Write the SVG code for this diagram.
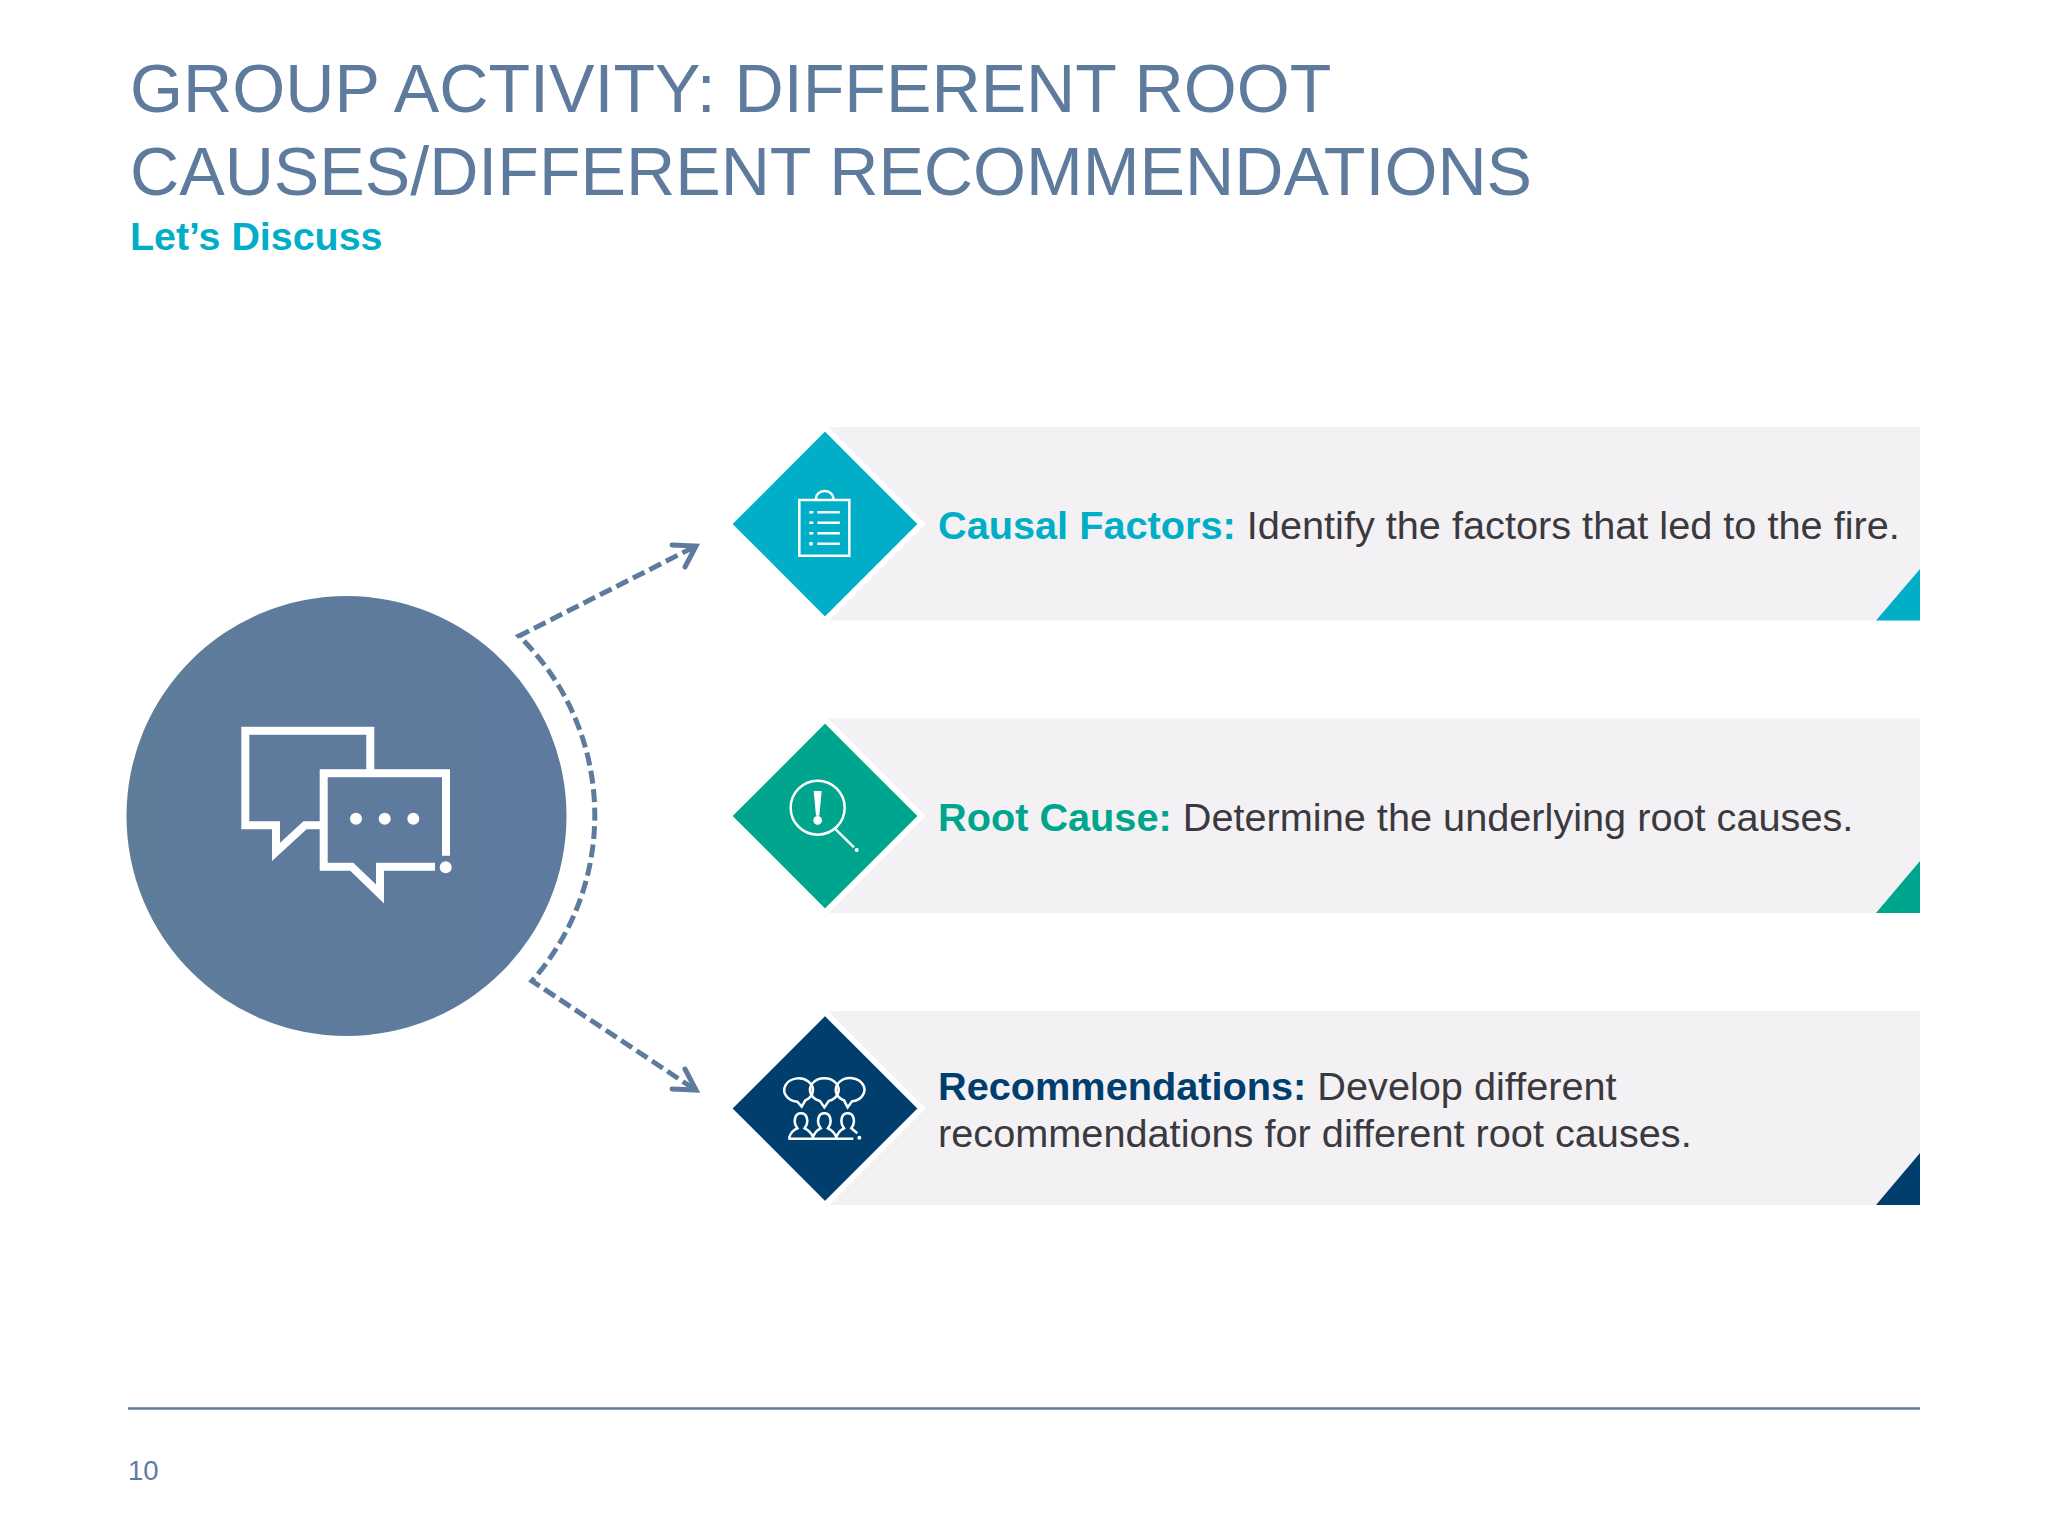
<svg xmlns="http://www.w3.org/2000/svg" width="2048" height="1536" viewBox="0 0 2048 1536">
<style>
text{font-family:"Liberation Sans",Arial,sans-serif}
.title{font-size:68.150px;fill:#5e7b9e}
.sub{font-size:39.400px;font-weight:700;fill:#00aec7}
.body{font-size:39.700px;fill:#3a3a3e}
.b{font-weight:700}
.bar{fill:#f3f1f4}
.dia{stroke:#fff;stroke-width:6}
.ic{fill:none;stroke:#fff;stroke-width:7.5}
.conn{fill:none;stroke:#5e7b9e;stroke-width:5;stroke-dasharray:13 5.500}
.head{fill:none;stroke:#5e7b9e;stroke-width:5;stroke-linecap:round}
</style>
<defs>
<linearGradient id="hubFill" x1="0" y1="0" x2="1" y2="0">
<stop offset="0" stop-color="#5e7d9a"/>
<stop offset=".35" stop-color="#5e7b9d"/>
<stop offset="1" stop-color="#5e7a9e"/>
</linearGradient>
</defs>
<rect width="2048" height="1536" fill="#fff"/>
<g id="header">
<text class="title" x="130" y="112">GROUP ACTIVITY: DIFFERENT ROOT</text>
<text class="title" x="130" y="194.500">CAUSES/DIFFERENT RECOMMENDATIONS</text>
<text class="sub" x="130" y="250">Let’s Discuss</text>
</g>
<g id="hub">
<circle cx="346.500" cy="816" r="220" fill="url(#hubFill)"/>
<g fill="none" stroke="#fff" stroke-width="8">
<path d="M370.300 775V730.700H245.300V825.300H276V852L305 825.300H325"/>
<path d="M435 866.700H380V894L351.700 866.700H323.700V773.300H446V855.700"/>
</g>
<g fill="#fff">
<circle cx="445.700" cy="867.300" r="6"/>
<circle cx="356" cy="818.700" r="6"/>
<circle cx="384.700" cy="818.700" r="6"/>
<circle cx="413.300" cy="818.700" r="6"/>
</g>
</g>
<g id="connectors">
<path class="conn" d="M694 547L519 636A250 250 0 0 1 532 981L694 1089"/>
<path class="head" d="M672 545L696 546L685 567M672 1089L696 1090L685 1069"/>
</g>
<g id="node-causal">
<rect class="bar" x="825" y="427" width="1095" height="193.500"/>
<path d="M1920 569V620.500H1876Z" fill="#00aec7"/>
<path class="dia" d="M825 427.500L921.500 524L825 620.500L728.500 524Z" fill="#00aec7"/>
<g transform="translate(720 420) scale(.33333)">
<path class="ic" d="M238 240H388V407H238ZM288 240V235A26 22 0 0 1 340 235V240M292 277H360M292 308H360M292 340H360M292 371H360M268 277H280M268 308H280M268 340H280"/>
<circle cx="273" cy="371" r="6" fill="#fff"/>
</g>
<text class="body" x="938" y="539"><tspan class="b" fill="#00aec7">Causal Factors:</tspan> Identify the factors that led to the fire.</text>
</g>
<g id="node-root">
<rect class="bar" x="825" y="718.500" width="1095" height="194.500"/>
<path d="M1920 861V913H1876Z" fill="#00a58d"/>
<path class="dia" d="M825 719.500L921.500 816L825 912.500L728.500 816Z" fill="#00a58d"/>
<g transform="translate(720 715) scale(.33333)">
<circle class="ic" cx="293" cy="278" r="81"/>
<path class="ic" d="M347 343L402 397"/>
<path d="M281 228H305L298 302H288Z" fill="#fff"/>
<circle cx="293" cy="316" r="13" fill="#fff"/>
<circle cx="410" cy="405" r="6" fill="#fff"/>
</g>
<text class="body" x="938" y="831"><tspan class="b" fill="#00a58d">Root Cause:</tspan> Determine the underlying root causes.</text>
</g>
<g id="node-recs">
<rect class="bar" x="825" y="1011" width="1095" height="194"/>
<path d="M1920 1153V1205H1876Z" fill="#003f6d"/>
<path class="dia" d="M825 1012L921.500 1108.500L825 1205L728.500 1108.500Z" fill="#003f6d"/>
<g transform="translate(720 1005) scale(.33333)">
<path class="ic" d="M232 290A43 35 0 1 1 256 286L245 305Z"/>
<path class="ic" d="M300 288A43 35 0 1 1 326 288L313 307Z"/>
<path class="ic" d="M372 286A43 35 0 1 1 396 289L383 307Z"/>
<path class="ic" d="M205 401H400M207 400Q212 378 232 370C218 350 224 325 243 325C262 325 268 350 254 370Q272 378 280 398M278 400Q284 378 302 370C288 350 294 325 313 325C332 325 338 350 324 370Q342 378 350 398M348 400Q354 378 372 370C358 350 364 325 383 325C402 325 408 350 394 370L412 385"/>
<circle cx="418" cy="398" r="6" fill="#fff"/>
</g>
<text class="body" x="938" y="1099.500"><tspan class="b" fill="#003f6d">Recommendations:</tspan> Develop different</text>
<text class="body" x="938" y="1146.500">recommendations for different root causes.</text>
</g>
<g id="footer">
<path d="M128 1408.500H1920" stroke="#5e7b9e" stroke-width="2.500" fill="none"/>
<text x="128" y="1480" font-size="27.500" fill="#5e7b9e">10</text>
</g>
</svg>
